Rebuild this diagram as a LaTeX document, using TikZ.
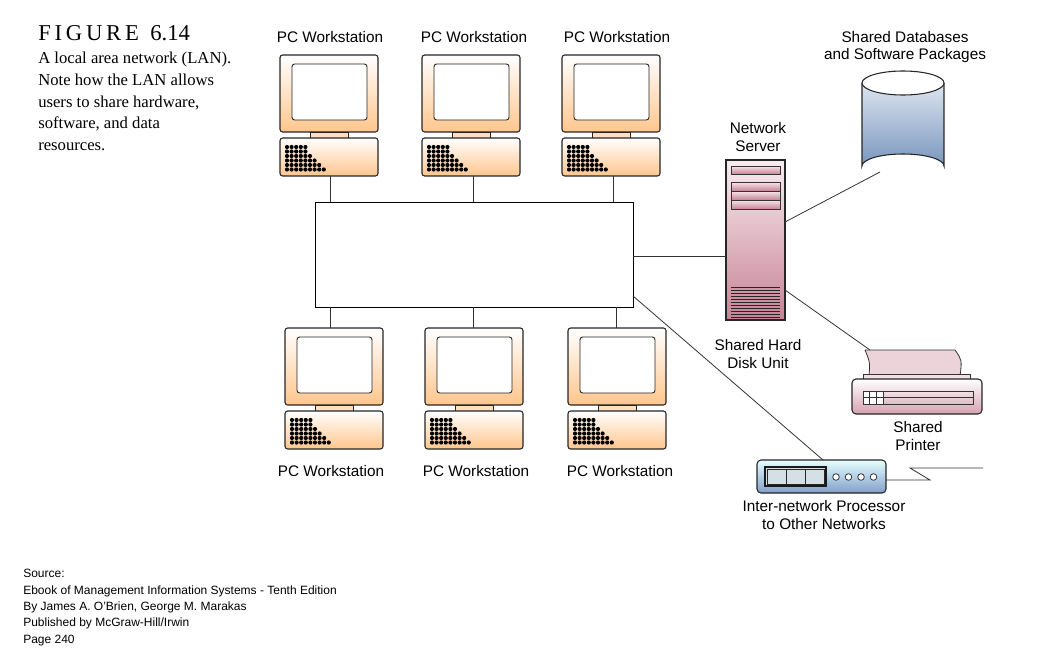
\documentclass[tikz,border=0pt]{standalone}
\usepackage{fontspec}
\setmainfont{Liberation Sans}
\newfontfamily\capfont{Liberation Serif}
\definecolor{dbblue}{RGB}{120,150,190}
\definecolor{mauve}{RGB}{200,130,150}
\begin{document}
\begin{tikzpicture}[x=0.75pt,y=-0.75pt,
  lbl/.style={font=\fontsize{11.5}{13}\selectfont,align=center,inner sep=0pt},
  wire/.style={draw=black!80,line width=0.6pt},
  mon/.style={draw=black!85,line width=0.8pt,rounded corners=2pt,top color=white,bottom color=orange!45!white},
  ]
\useasboundingbox (0,0) rectangle (1045,660);
\fill[white] (0,0) rectangle (1045,660);
% caption
\node[anchor=north west,inner sep=0pt,font=\capfont\fontsize{17}{18}\selectfont] (fig) at (38,25) {F\,I\,G\,U\,R\,E\ \ 6.14};
\node[anchor=north west,inner sep=0pt,align=left,font=\capfont\fontsize{12.5}{16.2}\selectfont] (cap) at (38,52) {A local area network (LAN).\\Note how the LAN allows\\users to share hardware,\\software, and data\\resources.};
% workstation pic
\newcommand{\ws}[3]{%
 \begin{scope}[shift={(#1,#2)}]
  \path[mon] (0,0) rectangle (98,77);
  \path[draw=black!85,line width=0.7pt,rounded corners=2pt,fill=white] (12,9) rectangle (87,65);
  \path[draw=black!85,line width=0.7pt,fill=orange!25] (30,77) rectangle (68,83);
  \path[mon] (0,83) rectangle (98,121);
  \foreach \r in {0,...,5}{\pgfmathtruncatemacro{\n}{4+\r*0.9}
    \foreach \c in {0,...,\n}{\fill (7+\c*4.6,92+\r*4.5) circle[radius=2.1];}}
  \coordinate (#3) at (49,0);
 \end{scope}}
\ws{280}{55}{t1}\ws{422}{55}{t2}\ws{562}{55}{t3}
\ws{285}{328}{b1}\ws{425}{328}{b2}\ws{568}{328}{b3}
\node[lbl] (lt1) at (330,37) {PC Workstation};
\node[lbl] (lt2) at (474,37) {PC Workstation};
\node[lbl] (lt3) at (617,37) {PC Workstation};
\node[lbl] (lb1) at (331,471) {PC Workstation};
\node[lbl] (lb2) at (476,471) {PC Workstation};
\node[lbl] (lb3) at (620,471) {PC Workstation};
% LAN box
\draw[line width=0.7pt] (315,202) rectangle (633,307);
\coordinate (lanE) at (633,256);
\coordinate (lanSE) at (633,296);
\foreach \x in {330,473,613}{\draw[wire] (\x,176) -- (\x,202);}
\foreach \x in {330,473,616}{\draw[wire] (\x,307) -- (\x,328);}
% server
\path[draw=black!85,line width=0.8pt,top color=mauve!15,bottom color=mauve] (726,160) rectangle (785,320);
\coordinate (srvW) at (726,256);
\foreach \y/\h in {166/8,182/9,191/9,200/9}{\draw[black!80,line width=0.6pt,top color=mauve!20,bottom color=mauve] (731,\y) rectangle (780,\y+\h);}
\foreach \i in {0,...,10}{\draw[black!85,line width=0.5pt] (731,287+\i*3) -- (780,287+\i*3);}
\node[lbl] (lsrv) at (758,137) {Network\\Server};
\node[lbl] (lhd) at (758,354) {Shared Hard\\Disk Unit};
% database
\path[draw=black!85,line width=0.8pt,top color=dbblue!25,bottom color=dbblue] (862,83) -- (862,166) arc[start angle=180,end angle=360,x radius=41,y radius=12] -- (944,83);
\draw[black!85,line width=0.8pt,fill=white] (903,83) ellipse[x radius=41,y radius=12];
\coordinate (db) at (880,172);
\node[lbl] (ldb) at (905,47) {Shared Databases\\and Software Packages};
% printer
\path[draw=black!80,line width=0.6pt,fill=mauve!35] (865,350) -- (955,350) .. controls (962,360) .. (960,376) -- (869,376) .. controls (870,362) .. (865,350);
\path[draw=black!80,line width=0.6pt,fill=mauve!25] (863,374) rectangle (970,379);
\path[draw=black!85,line width=0.8pt,rounded corners=3pt,top color=white,bottom color=mauve!75] (852,379) rectangle (982,414);
\draw[black!80,line width=0.6pt] (883,391) rectangle (973,404);
\draw[black!80,line width=0.6pt] (883,397) -- (973,397);
\draw[black!80,line width=0.6pt,fill=white] (863,391) rectangle (883,404);
\draw[black!80,line width=0.5pt] (869.7,391) -- (869.7,404) (876.3,391) -- (876.3,404) (863,397.5) -- (883,397.5);
\coordinate (prt) at (870,350);
\node[lbl] (lprt) at (918,436) {Shared\\Printer};
% processor
\path[draw=black!85,line width=0.8pt,rounded corners=3pt,top color=cyan!10!white,bottom color=cyan!40!blue!40!gray!70] (757,460) rectangle (886,493);
\draw[black!90,line width=0.8pt,fill=cyan!25!gray!30] (765,467) rectangle (826,486);
\draw[black!85,line width=0.6pt] (767,469) rectangle (824,484);
\draw[black!85,line width=0.6pt] (786,469) -- (786,484) (805,469) -- (805,484);
\foreach \i in {0,...,3}{\draw[black!80,line width=0.6pt,fill=white] (836+\i*12.5,477) circle[radius=3.3];}
\coordinate (proc) at (823,460);
\coordinate (procE) at (886,480);
\coordinate (z1) at (930,480);\coordinate (z2) at (910,468);\coordinate (z3) at (983,468);
\draw[wire] (procE) -- (z1) -- (z2) -- (z3);
\node[lbl] (lproc) at (824,515) {Inter-network Processor\\to Other Networks};
% connectors
\draw[wire] (lanE) -- (srvW);
\draw[wire] (785,222) -- (db);
\draw[wire] (785,290) -- (prt);
\draw[wire] (lanSE) -- (proc);
% source
\node[anchor=north west,inner sep=0pt,align=left,font=\fontsize{9}{12.3}\selectfont] (src) at (23,569) {Source:\\Ebook of Management Information Systems - Tenth Edition\\By James A. O'Brien, George M. Marakas\\Published by McGraw-Hill/Irwin\\Page 240};
\end{tikzpicture}
\end{document}
